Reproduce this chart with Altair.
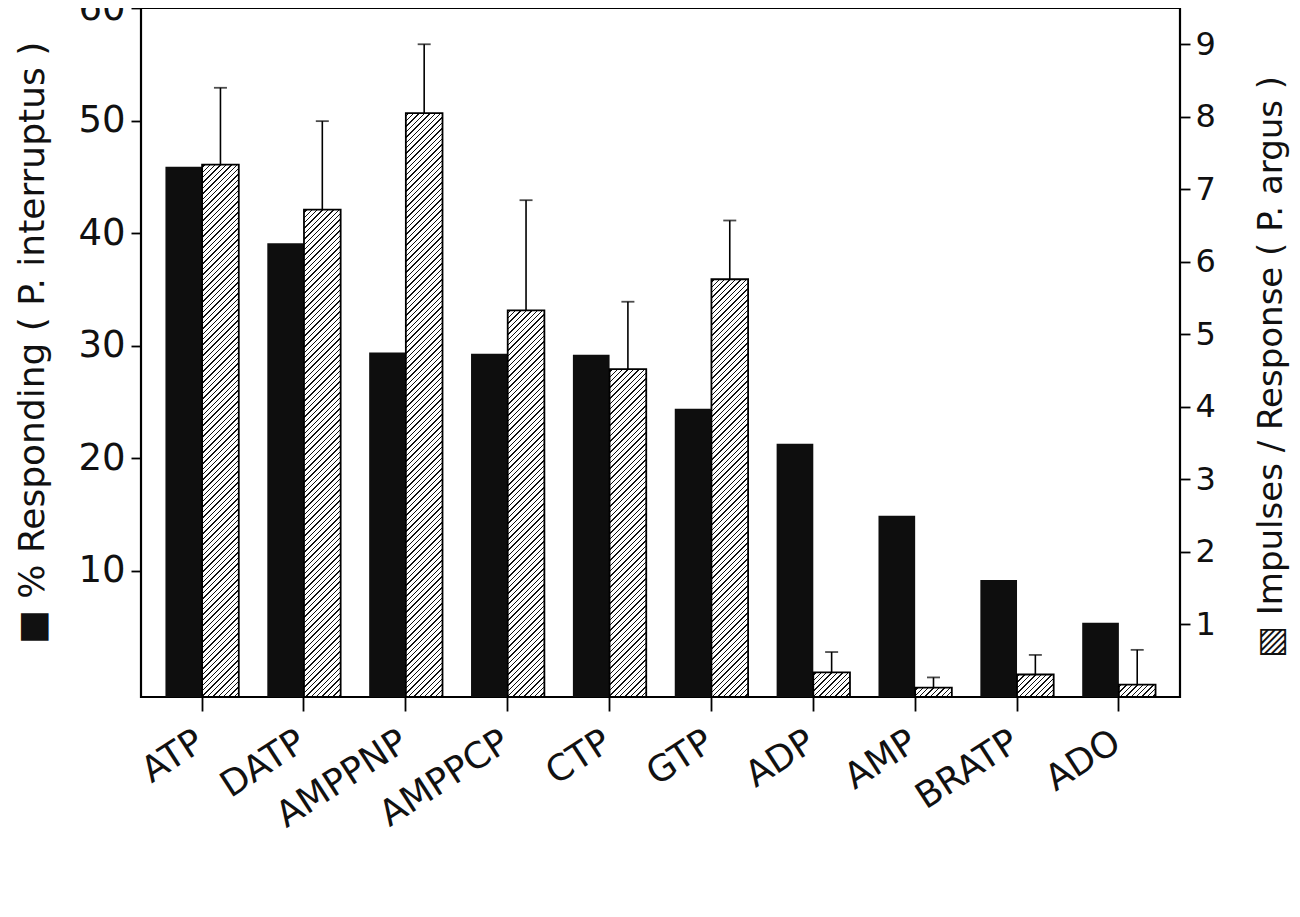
import altair as alt
import pandas as pd

# ---------------- data ----------------
categories = ["ATP", "DATP", "AMPPNP", "AMPPCP", "CTP", "GTP", "ADP", "AMP", "BRATP", "ADO"]
# % responding (P. interruptus) -- black bars, left axis
pct_responding = [45.9, 39.1, 29.4, 29.3, 29.2, 24.4, 21.3, 14.9, 9.2, 5.4]
# impulses / response (P. argus) -- hatched bars, right axis
impulses = [7.34, 6.72, 8.05, 5.33, 4.52, 5.76, 0.34, 0.13, 0.31, 0.17]
impulses_se = [1.06, 1.22, 0.95, 1.52, 0.93, 0.81, 0.28, 0.14, 0.27, 0.48]
left_ticks = [10, 20, 30, 40, 50, 60]
right_ticks = [1, 2, 3, 4, 5, 6, 7, 8, 9]
LEFT_MIN, LEFT_MAX = -1.2, 60      # left axis: zero sits a little above the frame bottom
RIGHT_MIN, RIGHT_MAX = 0, 9.5

# ---------------- layout ----------------
W, H = 1039, 689
P_INNER, P_OUTER = 0.28, 0.24
FONT = "DejaVu Sans"

black_df = pd.DataFrame({"cat": categories, "series": "black", "value": pct_responding})
hatch_df = pd.DataFrame({
    "cat": categories, "series": "hatch", "value": impulses,
    "hi": [v + s for v, s in zip(impulses, impulses_se)],
})

x_enc = alt.X(
    "cat:N", sort=categories,
    scale=alt.Scale(domain=categories, paddingInner=P_INNER, paddingOuter=P_OUTER),
    axis=alt.Axis(
        title=None, domain=False, ticks=True, tickSize=14, tickWidth=1.8, tickColor="black",
        labelAngle=-33, labelAlign="right", labelBaseline="top", labelPadding=13,
        labelOffset=-11, labelFontSize=36, labelFont=FONT, labelColor="#111", labelLimit=400,
    ),
)
xoff_enc = alt.XOffset("series:N", scale=alt.Scale(domain=["black", "hatch"], paddingInner=0, paddingOuter=0))

left_axis = alt.Axis(
    orient="left", values=left_ticks, domain=False, grid=False,
    tickSize=10, tickWidth=1.8, tickColor="black",
    labelFontSize=37, labelFont=FONT, labelColor="#111", labelPadding=6,
    title="■   % Responding  ( P. interruptus )", titleFont=FONT, titleFontSize=36,
    titleFontWeight="normal", titleColor="#111", titleAngle=-90,
    titleX=-109, titleY=H / 2 - 10, titleAlign="center", titleBaseline="middle",
)
right_axis = alt.Axis(
    orient="right", values=right_ticks, domain=False, grid=False,
    tickSize=10, tickWidth=1.8, tickColor="black",
    labelFontSize=32, labelFont=FONT, labelColor="#111", labelPadding=5,
    title="▧   Impulses / Response  ( P. argus )", titleFont=FONT, titleFontSize=34,
    titleFontWeight="normal", titleColor="#111", titleAngle=-90,
    titleX=91, titleY=H / 2 + 14, titleAlign="center", titleBaseline="middle",
)

black_bars = alt.Chart(black_df).mark_bar(color="#0e0e0e").encode(
    x=x_enc, xOffset=xoff_enc,
    y=alt.Y("value:Q", scale=alt.Scale(domain=[LEFT_MIN, LEFT_MAX], nice=False, zero=False), axis=left_axis),
    y2=alt.datum(LEFT_MIN),
)

# hatch fill: a striped linear gradient per bar (45 degree "/" lines)
step = W / (len(categories) - P_INNER + 2 * P_OUTER)
bar_w = step * (1 - P_INNER) / 2
px_per_unit = H / (RIGHT_MAX - RIGHT_MIN)


def hatch_gradient(w, h, period=5.4, lw=1.4):
    total = w + h
    k = h * (w + h) / (w * w + h * h)
    stops = [{"offset": 0, "color": "white"}]
    d = period / 2
    while d - lw / 2 < total:
        t0 = max(0.0, (d - lw / 2) / total)
        t1 = min(1.0, (d + lw / 2) / total)
        stops += [
            {"offset": t0, "color": "white"}, {"offset": t0, "color": "#111"},
            {"offset": t1, "color": "#111"}, {"offset": t1, "color": "white"},
        ]
        d += period
    stops.append({"offset": 1, "color": "white"})
    return {"gradient": "linear", "x1": 0, "y1": 0, "x2": k * w / h, "y2": k, "stops": stops}


y_right = alt.Y("value:Q", scale=alt.Scale(domain=[RIGHT_MIN, RIGHT_MAX], nice=False), axis=right_axis)

hatch_layers = []
for c, v in zip(categories, impulses):
    grad = hatch_gradient(bar_w, max(v * px_per_unit, 1.0))
    hatch_layers.append(
        alt.Chart(hatch_df).transform_filter(alt.datum.cat == c)
        .mark_bar(fill=grad, stroke="black", strokeWidth=1.8)
        .encode(x=x_enc, xOffset=xoff_enc, y=y_right)
    )

err_rule = alt.Chart(hatch_df).mark_rule(color="black", strokeWidth=1.6).encode(
    x=x_enc, xOffset=xoff_enc, y=y_right, y2="hi:Q"
)
err_cap = alt.Chart(hatch_df).mark_tick(color="black", size=13, thickness=1.8).encode(
    x=x_enc, xOffset=xoff_enc,
    y=alt.Y("hi:Q", scale=alt.Scale(domain=[RIGHT_MIN, RIGHT_MAX], nice=False), axis=right_axis),
)

right_layer = alt.layer(*hatch_layers, err_rule, err_cap)

chart = (
    alt.layer(black_bars, right_layer)
    .resolve_scale(y="independent")
    .properties(
        width=W, height=H,
        autosize=alt.AutoSizeParams(type="none"),
        padding={"left": 133, "top": 0, "right": 112, "bottom": 150},
        background="white",
    )
    .configure_view(stroke="black", strokeWidth=2.2)
)

chart.save("out.html", embed_options={"renderer": "svg", "actions": False})
